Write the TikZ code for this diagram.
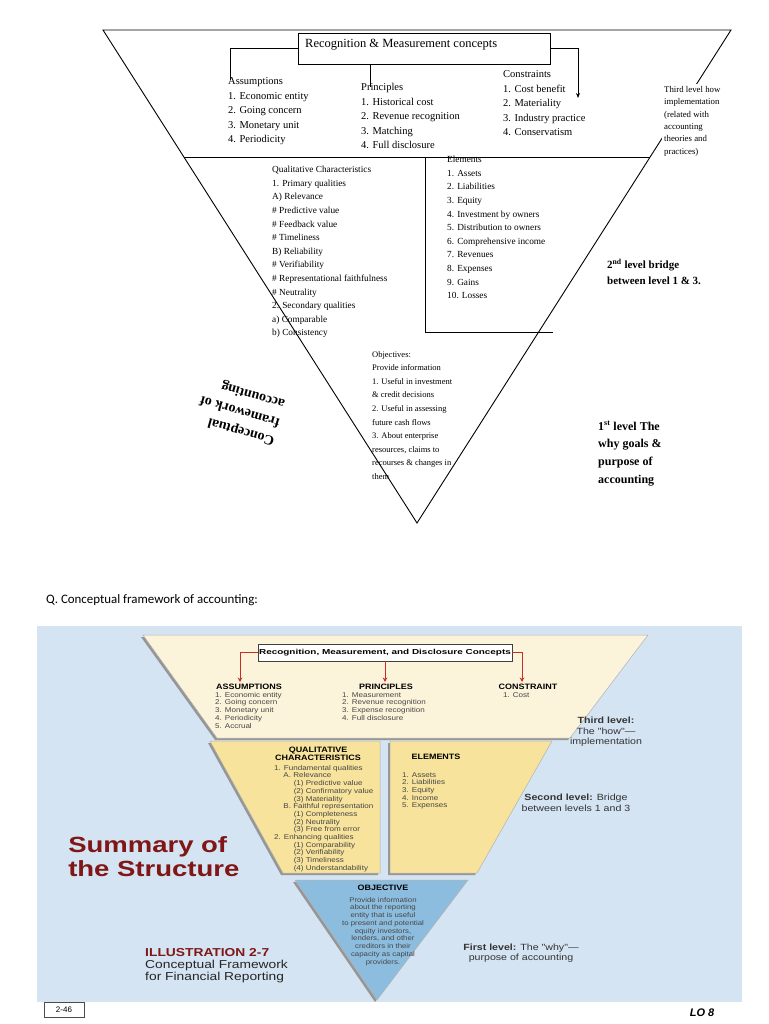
\documentclass[tikz,border=0pt]{standalone}
\usepackage{fontspec}
\setmainfont{Liberation Serif}
\newfontfamily\sansf{Liberation Sans}
\newfontfamily\calf{Carlito}
\usetikzlibrary{arrows.meta}
\definecolor{panelblue}{RGB}{213,228,242}
\definecolor{cream}{RGB}{252,243,219}
\definecolor{qyellow}{RGB}{247,227,155}
\definecolor{objblue}{RGB}{141,189,222}
\definecolor{darkred}{RGB}{128,22,22}
\definecolor{arrred}{RGB}{200,45,40}
\definecolor{itemgray}{RGB}{70,70,70}
\definecolor{shadowgray}{RGB}{150,150,150}
\begin{document}
\begin{tikzpicture}[x=1pt,y=-1pt,
  outline/.style={draw=black, line width=0.9pt},
  toptext/.style={anchor=north west, inner sep=0pt, align=left, font=\fontsize{10.5}{14.5}\selectfont},
  midtext/.style={anchor=north west, inner sep=0pt, align=left, font=\fontsize{9.3}{13.6}\selectfont},
  objtext/.style={anchor=north west, inner sep=0pt, align=left, font=\fontsize{8.5}{13.6}\selectfont},
  levellabel/.style={anchor=north west, inner sep=0pt, align=left, font=\bfseries\fontsize{11}{16}\selectfont},
  btext/.style={inner sep=0pt, align=left, xscale=1.15, text=itemgray, font=\sansf\fontsize{7}{7.7}\selectfont},
  bhead/.style={inner sep=0pt, align=center, xscale=1.15, text=black, font=\sansf\bfseries\fontsize{7.8}{8}\selectfont},
  bnote/.style={inner sep=0pt, align=center, xscale=1.18, text=black!80, font=\sansf\fontsize{9}{10.5}\selectfont},
  redarrow/.style={draw=arrred, line width=1pt, -{Stealth[length=4.5pt,width=4.5pt]}},
  dropshadow/.style={fill=shadowgray},
]
\useasboundingbox (0,0) rectangle (768,1024);

% ================= TOP DIAGRAM =================
\coordinate (TL) at (103,30);
\coordinate (TR) at (731,30);
\coordinate (AP) at (417,523);
\draw[outline] (TL) -- (TR) -- (AP) -- cycle;
\coordinate (HL) at (184,157);
\coordinate (HR) at (650,157);
\draw[outline] (HL) -- (HR);

\node[draw, line width=0.9pt, minimum width=252pt, minimum height=31pt, inner sep=0pt, anchor=north west] (rmbox) at (298,33) {};
\node[anchor=west, inner sep=0pt, font=\fontsize{12.5}{14}\selectfont] (rmtext) at (305,45) {Recognition \& Measurement concepts};

\coordinate (aend) at (230,80);
\coordinate (pend) at (370,87);
\coordinate (cend) at (578,98);
\draw[line width=0.9pt] (rmbox.west) -| (aend);
\draw[line width=0.9pt] (rmbox.south -| pend) -- (pend);
\draw[line width=0.9pt, -{Stealth[length=5pt,width=4pt]}] (rmbox.east) -| (cend);

\node[toptext] (assum) at (228,77.5) {Assumptions\\1. Economic entity\\2. Going concern\\3. Monetary unit\\4. Periodicity};
\node[toptext] (princ) at (361,83.5) {Principles\\1. Historical cost\\2. Revenue recognition\\3. Matching\\4. Full disclosure};
\node[toptext] (constr) at (503,70.5) {Constraints\\1. Cost benefit\\2. Materiality\\3. Industry practice\\4. Conservatism};

\node[anchor=north west, fill=white, inner sep=2pt, align=left, font=\fontsize{8.8}{12.4}\selectfont] (third) at (662,84) {Third level how\\implementation\\(related with\\accounting\\theories and\\practices)};

% second level
\coordinate (EBt) at (425,157);
\coordinate (EBb) at (425,332);
\coordinate (EBr) at (553,332);
\draw[line width=0.9pt] (EBt) -- (EBb) -- (EBr);

\node[midtext] (qual) at (272,166) {Qualitative Characteristics\\1. Primary qualities\\A) Relevance\\\# Predictive value\\\# Feedback value\\\# Timeliness\\B) Reliability\\\# Verifiability\\\# Representational faithfulness\\\# Neutrality\\2. Secondary qualities\\a) Comparable\\b) Consistency};

\node[midtext] (elem) at (447,156) {Elements\\1. Assets\\2. Liabilities\\3. Equity\\4. Investment by owners\\5. Distribution to owners\\6. Comprehensive income\\7. Revenues\\8. Expenses\\9. Gains\\10. Losses};

\node[objtext] (obj) at (372,351) {Objectives:\\Provide information\\1. Useful in investment\\\& credit decisions\\2. Useful in assessing\\future cash flows\\3. About enterprise\\resources, claims to\\recourses \& changes in\\them};

\node[rotate=164, inner sep=0pt, align=left, font=\bfseries\fontsize{14}{19}\selectfont] (cfa) at (240,411) {Conceptual\\framework of\\accounting};

\node[levellabel] (lvl2) at (607,258.5) {2\textsuperscript{nd} level bridge\\between level 1 \& 3.};
\node[levellabel, font=\bfseries\fontsize{12}{17.7}\selectfont] (lvl1) at (598,421) {1\textsuperscript{st} level The\\why goals \&\\purpose of\\accounting};

\node[anchor=west, inner sep=0pt, font=\calf\fontsize{12.9}{14}\selectfont] (qtitle) at (46,600) {Q. Conceptual framework of accounting:};

% ================= BOTTOM PICTURE =================
\fill[panelblue] (37,626) rectangle (742,1002);

% third level trapezoid
\fill[dropshadow] (141,637) -- (646,637) -- (568,740) -- (215,740) -- cycle;
\filldraw[fill=cream, draw=gray!60, line width=0.5pt] (143,635) -- (648,635) -- (570,738) -- (217,738) -- cycle;

\node[draw=black!75, fill=white, line width=0.7pt, minimum width=254pt, minimum height=17pt, inner sep=0pt] (rmd) at (385,652.5) {};
\node[bhead, font=\sansf\bfseries\fontsize{7.2}{8}\selectfont, xscale=1.2] (rmdtext) at (rmd) {Recognition, Measurement, and Disclosure Concepts};

\coordinate (ra) at (240,682);
\coordinate (rp) at (385,682);
\coordinate (rc) at (522,682);
\draw[redarrow] (rmd.west) -| (ra);
\draw[redarrow] (rmd.south) -- (rp);
\draw[redarrow] (rmd.east) -| (rc);

\node[bhead] (hA) at (249,687) {ASSUMPTIONS};
\node[bhead] (hP) at (386,687) {PRINCIPLES};
\node[bhead] (hC) at (528,687) {CONSTRAINT};
\node[btext, anchor=north west] (iA) at (215,692) {1. Economic entity\\2. Going concern\\3. Monetary unit\\4. Periodicity\\5. Accrual};
\node[btext, anchor=north west] (iP) at (342,692) {1. Measurement\\2. Revenue recognition\\3. Expense recognition\\4. Full disclosure};
\node[btext, anchor=north west] (iC) at (503,692) {1. Cost};

\node[bnote] (n3) at (606,732) {\textbf{Third level:}\\The "how"—\\implementation};

% second level trapezoids
\fill[dropshadow] (208,743) -- (378,743) -- (378,875) -- (281,875) -- cycle;
\filldraw[fill=qyellow, draw=gray!60, line width=0.5pt] (210,741) -- (380,741) -- (380,873) -- (283,873) -- cycle;
\fill[dropshadow] (388,743) -- (550,743) -- (475,875) -- (388,875) -- cycle;
\filldraw[fill=qyellow, draw=gray!60, line width=0.5pt] (390,741) -- (552,741) -- (477,873) -- (390,873) -- cycle;

\node[bhead] (hQ) at (318,754) {QUALITATIVE\\CHARACTERISTICS};
\node[btext, anchor=north west] (iQ) at (274,765) {1. Fundamental qualities\\\hspace*{8pt}A. Relevance\\\hspace*{17pt}(1) Predictive value\\\hspace*{17pt}(2) Confirmatory value\\\hspace*{17pt}(3) Materiality\\\hspace*{8pt}B. Faithful representation\\\hspace*{17pt}(1) Completeness\\\hspace*{17pt}(2) Neutrality\\\hspace*{17pt}(3) Free from error\\2. Enhancing qualities\\\hspace*{17pt}(1) Comparability\\\hspace*{17pt}(2) Verifiability\\\hspace*{17pt}(3) Timeliness\\\hspace*{17pt}(4) Understandability};

\node[bhead] (hE) at (436,757) {ELEMENTS};
\node[btext, anchor=north west] (iE) at (402,772) {1. Assets\\2. Liabilities\\3. Equity\\4. Income\\5. Expenses};

\node[bnote] (n2) at (576,803) {\textbf{Second level:} Bridge\\between levels 1 and 3};

% first level triangle
\fill[dropshadow] (293,882) -- (466,882) -- (375,1002) -- cycle;
\filldraw[fill=objblue, draw=gray!60, line width=0.5pt] (295,880) -- (468,880) -- (377,1000) -- cycle;
\node[bhead] (hO) at (383,888) {OBJECTIVE};
\node[btext, align=center, anchor=north, font=\sansf\fontsize{6.8}{7.75}\selectfont] (iO) at (383,897) {Provide information\\about the reporting\\entity that is useful\\to present and potential\\equity investors,\\lenders, and other\\creditors in their\\capacity as capital\\providers.};

\node[bnote] (n1) at (521,953) {\textbf{First level:} The "why"—\\purpose of accounting};

% left titles
\node[anchor=north west, inner sep=0pt, align=left, xscale=1.25, text=darkred, font=\sansf\bfseries\fontsize{22}{24}\selectfont] (summ) at (68,836) {Summary of\\the Structure};
\node[anchor=north west, inner sep=0pt, xscale=1.2, text=darkred, font=\sansf\bfseries\fontsize{11.5}{12}\selectfont] (ill) at (145,948) {ILLUSTRATION 2-7};
\node[anchor=north west, inner sep=0pt, align=left, xscale=1.2, text=black!85, font=\sansf\fontsize{11.5}{12}\selectfont] (illsub) at (145,960) {Conceptual Framework\\for Financial Reporting};

% footer
\node[draw=black!70, fill=white, line width=0.5pt, minimum width=40pt, minimum height=15pt, inner sep=0pt, font=\sansf\fontsize{8}{9}\selectfont] (pg) at (64,1010) {2-46};
\node[inner sep=0pt, font=\sansf\bfseries\itshape\fontsize{11}{12}\selectfont] (lo) at (702,1013) {LO 8};
\end{tikzpicture}
\end{document}
